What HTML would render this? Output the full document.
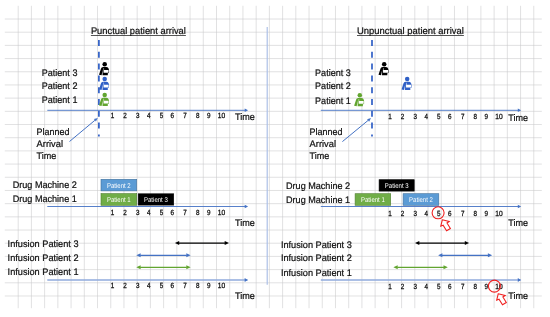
<!DOCTYPE html>
<html lang="en"><head><meta charset="utf-8"><title>Punctual vs unpunctual patient arrival</title>
<style>html,body{margin:0;padding:0;background:#fff;overflow:hidden}svg{display:block;filter:blur(0.3px)}text{font-family:"Liberation Sans",sans-serif;text-rendering:geometricPrecision;fill:#0c0c0c;stroke:#0c0c0c;stroke-width:0.2px}text.d{stroke-width:0.28px}</style>
</head><body>
<svg width="550" height="317" viewBox="0 0 550 317">
<defs>
<g id="pt"><circle cx="0" cy="0" r="2.25"/><path d="M-3.75 4.4 Q-3.4 2.9 -1.6 2.65 L1.8 2.65 Q3.6 2.9 4.0 4.4 L4.3 5.6 L4.3 8.6 L3.1 9.0 L3.1 11.0 L-2.2 11.0 L-2.0 5.3 L-3.1 11.0 L-5.7 10.5 Z"/><path d="M-1.15 5.75 L3.85 5.75 L3.85 8.5 L-1.15 8.5 Z M-1.1 3.6 L-0.7 3.6 L-0.6 5.75 L-1.1 5.75Z" fill="#fff"/></g>
</defs>
<rect width="550" height="317" fill="#fff"/>
<path d="M18.20 5.8V308.2M31.42 5.8V308.2M44.64 5.8V308.2M57.86 5.8V308.2M71.08 5.8V308.2M84.30 5.8V308.2M97.52 5.8V308.2M110.74 5.8V308.2M123.96 5.8V308.2M137.18 5.8V308.2M150.40 5.8V308.2M163.62 5.8V308.2M176.84 5.8V308.2M190.06 5.8V308.2M203.28 5.8V308.2M216.50 5.8V308.2M229.72 5.8V308.2M242.94 5.8V308.2M256.16 5.8V308.2M269.38 5.8V308.2M282.60 5.8V308.2M295.82 5.8V308.2M309.04 5.8V308.2M322.26 5.8V308.2M335.48 5.8V308.2M348.70 5.8V308.2M361.92 5.8V308.2M375.14 5.8V308.2M388.36 5.8V308.2M401.58 5.8V308.2M414.80 5.8V308.2M428.02 5.8V308.2M441.24 5.8V308.2M454.46 5.8V308.2M467.68 5.8V308.2M480.90 5.8V308.2M494.12 5.8V308.2M507.34 5.8V308.2M520.56 5.8V308.2M533.78 5.8V308.2M4.8 19.00H541.8M4.8 32.19H541.8M4.8 45.38H541.8M4.8 58.57H541.8M4.8 71.76H541.8M4.8 84.95H541.8M4.8 98.14H541.8M4.8 111.33H541.8M4.8 124.52H541.8M4.8 137.71H541.8M4.8 150.90H541.8M4.8 164.09H541.8M4.8 177.28H541.8M4.8 190.47H541.8M4.8 203.66H541.8M4.8 216.85H541.8M4.8 230.04H541.8M4.8 243.23H541.8M4.8 256.42H541.8M4.8 269.61H541.8M4.8 282.80H541.8M4.8 295.99H541.8" stroke="#c8c8ca" stroke-width="0.55" fill="none"/>
<path d="M267.2 26.9V284.8" stroke="#a9bde6" stroke-width="1.15" fill="none"/>
<text x="90.9" y="34.2" font-size="9.60" textLength="95.0" lengthAdjust="spacingAndGlyphs">Punctual patient arrival</text>
<path d="M90.9 35.5H185.9" stroke="#0c0c0c" stroke-width="0.7"/>
<path d="M98.9 40V136.5" stroke="#2f5fc6" stroke-width="1.7" stroke-dasharray="6 5.8" fill="none"/>
<text x="41.8" y="75.6" font-size="9.50" textLength="35.6" lengthAdjust="spacingAndGlyphs">Patient 3</text>
<text x="41.8" y="89.0" font-size="9.50" textLength="35.6" lengthAdjust="spacingAndGlyphs">Patient 2</text>
<text x="41.8" y="103.3" font-size="9.50" textLength="35.6" lengthAdjust="spacingAndGlyphs">Patient 1</text>
<use href="#pt" transform="translate(104.7 64.3)" fill="#000"/>
<use href="#pt" transform="translate(104.7 79.0)" fill="#2f5fc6"/>
<use href="#pt" transform="translate(104.7 95.1)" fill="#62a530"/>
<path d="M47.3 110.3H245.2" stroke="#4472c4" stroke-width="0.90" fill="none"/>
<path d="M248.1 110.3l-3.4 -1.8v3.6z" fill="#4472c4"/>
<path d="M47.3 206.5H245.2" stroke="#4472c4" stroke-width="0.90" fill="none"/>
<path d="M248.1 206.5l-3.4 -1.8v3.6z" fill="#4472c4"/>
<path d="M47.3 280.0H245.2" stroke="#8faadc" stroke-width="1.70" fill="none"/>
<path d="M248.1 280.0l-3.4 -1.7v3.4z" fill="#8faadc"/>
<path d="M248.1 280.0l-3.4 -1.8v3.6z" fill="#4472c4"/>
<text x="110.8" y="118.2" font-size="7.50" textLength="3.5" lengthAdjust="spacingAndGlyphs" class="d">1</text>
<text x="123.2" y="118.2" font-size="7.50" textLength="3.5" lengthAdjust="spacingAndGlyphs" class="d">2</text>
<text x="136.1" y="118.2" font-size="7.50" textLength="3.5" lengthAdjust="spacingAndGlyphs" class="d">3</text>
<text x="146.9" y="118.2" font-size="7.50" textLength="3.5" lengthAdjust="spacingAndGlyphs" class="d">4</text>
<text x="159.7" y="118.2" font-size="7.50" textLength="3.5" lengthAdjust="spacingAndGlyphs" class="d">5</text>
<text x="170.6" y="118.2" font-size="7.50" textLength="3.5" lengthAdjust="spacingAndGlyphs" class="d">6</text>
<text x="183.3" y="118.2" font-size="7.50" textLength="3.5" lengthAdjust="spacingAndGlyphs" class="d">7</text>
<text x="195.9" y="118.2" font-size="7.50" textLength="3.5" lengthAdjust="spacingAndGlyphs" class="d">8</text>
<text x="206.9" y="118.2" font-size="7.50" textLength="3.5" lengthAdjust="spacingAndGlyphs" class="d">9</text>
<text x="217.8" y="118.2" font-size="7.50" textLength="7.4" lengthAdjust="spacingAndGlyphs" class="d">10</text>
<text x="110.8" y="215.4" font-size="7.50" textLength="3.5" lengthAdjust="spacingAndGlyphs" class="d">1</text>
<text x="123.2" y="215.4" font-size="7.50" textLength="3.5" lengthAdjust="spacingAndGlyphs" class="d">2</text>
<text x="136.1" y="215.4" font-size="7.50" textLength="3.5" lengthAdjust="spacingAndGlyphs" class="d">3</text>
<text x="146.9" y="215.4" font-size="7.50" textLength="3.5" lengthAdjust="spacingAndGlyphs" class="d">4</text>
<text x="159.7" y="215.4" font-size="7.50" textLength="3.5" lengthAdjust="spacingAndGlyphs" class="d">5</text>
<text x="170.6" y="215.4" font-size="7.50" textLength="3.5" lengthAdjust="spacingAndGlyphs" class="d">6</text>
<text x="183.3" y="215.4" font-size="7.50" textLength="3.5" lengthAdjust="spacingAndGlyphs" class="d">7</text>
<text x="195.9" y="215.4" font-size="7.50" textLength="3.5" lengthAdjust="spacingAndGlyphs" class="d">8</text>
<text x="206.9" y="215.4" font-size="7.50" textLength="3.5" lengthAdjust="spacingAndGlyphs" class="d">9</text>
<text x="217.8" y="215.4" font-size="7.50" textLength="7.4" lengthAdjust="spacingAndGlyphs" class="d">10</text>
<text x="110.8" y="287.9" font-size="7.50" textLength="3.5" lengthAdjust="spacingAndGlyphs" class="d">1</text>
<text x="123.2" y="287.9" font-size="7.50" textLength="3.5" lengthAdjust="spacingAndGlyphs" class="d">2</text>
<text x="136.1" y="287.9" font-size="7.50" textLength="3.5" lengthAdjust="spacingAndGlyphs" class="d">3</text>
<text x="146.9" y="287.9" font-size="7.50" textLength="3.5" lengthAdjust="spacingAndGlyphs" class="d">4</text>
<text x="159.7" y="287.9" font-size="7.50" textLength="3.5" lengthAdjust="spacingAndGlyphs" class="d">5</text>
<text x="170.6" y="287.9" font-size="7.50" textLength="3.5" lengthAdjust="spacingAndGlyphs" class="d">6</text>
<text x="183.3" y="287.9" font-size="7.50" textLength="3.5" lengthAdjust="spacingAndGlyphs" class="d">7</text>
<text x="195.9" y="287.9" font-size="7.50" textLength="3.5" lengthAdjust="spacingAndGlyphs" class="d">8</text>
<text x="206.9" y="287.9" font-size="7.50" textLength="3.5" lengthAdjust="spacingAndGlyphs" class="d">9</text>
<text x="217.8" y="287.9" font-size="7.50" textLength="7.4" lengthAdjust="spacingAndGlyphs" class="d">10</text>
<text x="235.1" y="120.2" font-size="9.50" textLength="19.8" lengthAdjust="spacingAndGlyphs">Time</text>
<text x="235.1" y="226.2" font-size="9.50" textLength="19.8" lengthAdjust="spacingAndGlyphs">Time</text>
<text x="235.1" y="298.8" font-size="9.50" textLength="19.8" lengthAdjust="spacingAndGlyphs">Time</text>
<text x="36.6" y="134.6" font-size="9.50" textLength="32.8" lengthAdjust="spacingAndGlyphs">Planned</text>
<text x="36.6" y="146.7" font-size="9.50" textLength="26.4" lengthAdjust="spacingAndGlyphs">Arrival</text>
<text x="36.6" y="158.9" font-size="9.50" textLength="19.8" lengthAdjust="spacingAndGlyphs">Time</text>
<path d="M69.5 141.5L94.9 120.3" stroke="#4472c4" stroke-width="1.0" fill="none"/>
<path d="M97.8 117.9L95.9 121.6L93.9 119.1z" fill="#4472c4"/>
<text x="12.7" y="188.2" font-size="9.50" textLength="64.1" lengthAdjust="spacingAndGlyphs">Drug Machine 2</text>
<text x="12.7" y="202.4" font-size="9.50" textLength="64.1" lengthAdjust="spacingAndGlyphs">Drug Machine 1</text>
<text x="7.6" y="247.3" font-size="9.50" textLength="70.9" lengthAdjust="spacingAndGlyphs">Infusion Patient 3</text>
<text x="7.6" y="260.9" font-size="9.50" textLength="70.9" lengthAdjust="spacingAndGlyphs">Infusion Patient 2</text>
<text x="7.6" y="275.2" font-size="9.50" textLength="70.9" lengthAdjust="spacingAndGlyphs">Infusion Patient 1</text>
<text x="357.0" y="34.2" font-size="9.60" textLength="106.9" lengthAdjust="spacingAndGlyphs">Unpunctual patient arrival</text>
<path d="M357 35.5H463.9" stroke="#0c0c0c" stroke-width="0.7"/>
<path d="M372.0 40V136.5" stroke="#2f5fc6" stroke-width="1.7" stroke-dasharray="6 5.8" fill="none"/>
<text x="315.1" y="75.6" font-size="9.50" textLength="35.6" lengthAdjust="spacingAndGlyphs">Patient 3</text>
<text x="315.1" y="89.2" font-size="9.50" textLength="35.6" lengthAdjust="spacingAndGlyphs">Patient 2</text>
<text x="315.1" y="103.9" font-size="9.50" textLength="35.6" lengthAdjust="spacingAndGlyphs">Patient 1</text>
<use href="#pt" transform="translate(384.2 64.3)" fill="#000"/>
<use href="#pt" transform="translate(407.2 79.1)" fill="#2f5fc6"/>
<use href="#pt" transform="translate(359.8 95.3)" fill="#62a530"/>
<path d="M320.8 110.3H518.3" stroke="#4472c4" stroke-width="0.90" fill="none"/>
<path d="M521.2 110.3l-3.4 -1.8v3.6z" fill="#4472c4"/>
<path d="M320.8 206.5H518.3" stroke="#4472c4" stroke-width="0.90" fill="none"/>
<path d="M521.2 206.5l-3.4 -1.8v3.6z" fill="#4472c4"/>
<path d="M320.8 280.0H518.3" stroke="#8faadc" stroke-width="1.70" fill="none"/>
<path d="M521.2 280.0l-3.4 -1.7v3.4z" fill="#8faadc"/>
<path d="M521.2 280.0l-3.4 -1.8v3.6z" fill="#4472c4"/>
<text x="388.2" y="119.0" font-size="7.50" textLength="3.5" lengthAdjust="spacingAndGlyphs" class="d">1</text>
<text x="400.8" y="119.0" font-size="7.50" textLength="3.5" lengthAdjust="spacingAndGlyphs" class="d">2</text>
<text x="413.6" y="119.0" font-size="7.50" textLength="3.5" lengthAdjust="spacingAndGlyphs" class="d">3</text>
<text x="424.4" y="119.0" font-size="7.50" textLength="3.5" lengthAdjust="spacingAndGlyphs" class="d">4</text>
<text x="437.1" y="119.0" font-size="7.50" textLength="3.5" lengthAdjust="spacingAndGlyphs" class="d">5</text>
<text x="448.1" y="119.0" font-size="7.50" textLength="3.5" lengthAdjust="spacingAndGlyphs" class="d">6</text>
<text x="460.9" y="119.0" font-size="7.50" textLength="3.5" lengthAdjust="spacingAndGlyphs" class="d">7</text>
<text x="473.4" y="119.0" font-size="7.50" textLength="3.5" lengthAdjust="spacingAndGlyphs" class="d">8</text>
<text x="484.4" y="119.0" font-size="7.50" textLength="3.5" lengthAdjust="spacingAndGlyphs" class="d">9</text>
<text x="495.3" y="119.0" font-size="7.50" textLength="7.4" lengthAdjust="spacingAndGlyphs" class="d">10</text>
<text x="388.2" y="216.1" font-size="7.50" textLength="3.5" lengthAdjust="spacingAndGlyphs" class="d">1</text>
<text x="400.8" y="216.1" font-size="7.50" textLength="3.5" lengthAdjust="spacingAndGlyphs" class="d">2</text>
<text x="413.6" y="216.1" font-size="7.50" textLength="3.5" lengthAdjust="spacingAndGlyphs" class="d">3</text>
<text x="424.4" y="216.1" font-size="7.50" textLength="3.5" lengthAdjust="spacingAndGlyphs" class="d">4</text>
<text x="437.1" y="216.1" font-size="7.50" textLength="3.5" lengthAdjust="spacingAndGlyphs" class="d">5</text>
<text x="448.1" y="216.1" font-size="7.50" textLength="3.5" lengthAdjust="spacingAndGlyphs" class="d">6</text>
<text x="460.9" y="216.1" font-size="7.50" textLength="3.5" lengthAdjust="spacingAndGlyphs" class="d">7</text>
<text x="473.4" y="216.1" font-size="7.50" textLength="3.5" lengthAdjust="spacingAndGlyphs" class="d">8</text>
<text x="484.4" y="216.1" font-size="7.50" textLength="3.5" lengthAdjust="spacingAndGlyphs" class="d">9</text>
<text x="495.3" y="216.1" font-size="7.50" textLength="7.4" lengthAdjust="spacingAndGlyphs" class="d">10</text>
<text x="388.2" y="288.7" font-size="7.50" textLength="3.5" lengthAdjust="spacingAndGlyphs" class="d">1</text>
<text x="400.8" y="288.7" font-size="7.50" textLength="3.5" lengthAdjust="spacingAndGlyphs" class="d">2</text>
<text x="413.6" y="288.7" font-size="7.50" textLength="3.5" lengthAdjust="spacingAndGlyphs" class="d">3</text>
<text x="424.4" y="288.7" font-size="7.50" textLength="3.5" lengthAdjust="spacingAndGlyphs" class="d">4</text>
<text x="437.1" y="288.7" font-size="7.50" textLength="3.5" lengthAdjust="spacingAndGlyphs" class="d">5</text>
<text x="448.1" y="288.7" font-size="7.50" textLength="3.5" lengthAdjust="spacingAndGlyphs" class="d">6</text>
<text x="460.9" y="288.7" font-size="7.50" textLength="3.5" lengthAdjust="spacingAndGlyphs" class="d">7</text>
<text x="473.4" y="288.7" font-size="7.50" textLength="3.5" lengthAdjust="spacingAndGlyphs" class="d">8</text>
<text x="484.4" y="288.7" font-size="7.50" textLength="3.5" lengthAdjust="spacingAndGlyphs" class="d">9</text>
<text x="495.3" y="288.7" font-size="7.50" textLength="7.4" lengthAdjust="spacingAndGlyphs" class="d">10</text>
<text x="508.3" y="120.9" font-size="9.50" textLength="19.8" lengthAdjust="spacingAndGlyphs">Time</text>
<text x="508.3" y="226.4" font-size="9.50" textLength="19.8" lengthAdjust="spacingAndGlyphs">Time</text>
<text x="508.3" y="298.9" font-size="9.50" textLength="19.8" lengthAdjust="spacingAndGlyphs">Time</text>
<text x="309.6" y="134.6" font-size="9.50" textLength="32.8" lengthAdjust="spacingAndGlyphs">Planned</text>
<text x="309.6" y="146.7" font-size="9.50" textLength="26.4" lengthAdjust="spacingAndGlyphs">Arrival</text>
<text x="309.6" y="158.9" font-size="9.50" textLength="19.8" lengthAdjust="spacingAndGlyphs">Time</text>
<path d="M342.4 141.6L368.1 120.4" stroke="#4472c4" stroke-width="1.0" fill="none"/>
<path d="M371.0 118.0L369.1 121.7L367.1 119.2z" fill="#4472c4"/>
<text x="286.0" y="188.7" font-size="9.50" textLength="64.1" lengthAdjust="spacingAndGlyphs">Drug Machine 2</text>
<text x="286.0" y="203.0" font-size="9.50" textLength="64.1" lengthAdjust="spacingAndGlyphs">Drug Machine 1</text>
<text x="280.9" y="247.7" font-size="9.50" textLength="70.9" lengthAdjust="spacingAndGlyphs">Infusion Patient 3</text>
<text x="280.9" y="260.9" font-size="9.50" textLength="70.9" lengthAdjust="spacingAndGlyphs">Infusion Patient 2</text>
<text x="280.9" y="275.5" font-size="9.50" textLength="70.9" lengthAdjust="spacingAndGlyphs">Infusion Patient 1</text>
<rect x="101.0" y="179.3" width="35.7" height="11.6" fill="#5b9bd5" stroke="#41719c" stroke-width="0.6"/>
<text x="106.9" y="187.6" font-size="6.90" textLength="23.8" lengthAdjust="spacingAndGlyphs" style="fill:#fff;stroke:none">Patient 2</text>
<rect x="101.0" y="193.6" width="35.7" height="11.7" fill="#70ad47" stroke="#507e32" stroke-width="0.6"/>
<text x="106.9" y="201.9" font-size="6.90" textLength="23.8" lengthAdjust="spacingAndGlyphs" style="fill:#fff;stroke:none">Patient 1</text>
<rect x="138.2" y="193.8" width="35.5" height="11.3" fill="#000" stroke="#000" stroke-width="0.6"/>
<text x="144.0" y="201.9" font-size="6.90" textLength="23.8" lengthAdjust="spacingAndGlyphs" style="fill:#fff;stroke:none">Patient 3</text>
<rect x="379.1" y="179.7" width="35.1" height="11.4" fill="#000" stroke="#000" stroke-width="0.6"/>
<text x="384.8" y="187.9" font-size="6.90" textLength="23.8" lengthAdjust="spacingAndGlyphs" style="fill:#fff;stroke:none">Patient 3</text>
<rect x="355.1" y="193.7" width="35.6" height="11.6" fill="#70ad47" stroke="#507e32" stroke-width="0.6"/>
<text x="361.0" y="202.0" font-size="6.90" textLength="23.8" lengthAdjust="spacingAndGlyphs" style="fill:#fff;stroke:none">Patient 1</text>
<rect x="403.1" y="193.7" width="35.7" height="11.6" fill="#5b9bd5" stroke="#41719c" stroke-width="0.6"/>
<text x="409.1" y="202.0" font-size="6.90" textLength="23.8" lengthAdjust="spacingAndGlyphs" style="fill:#fff;stroke:none">Patient 2</text>
<path d="M178.7 243.1H225.2" stroke="#000" stroke-width="1.35" fill="none"/>
<path d="M229.0 243.1l-4.3 -2.0v4.0z" fill="#000"/>
<path d="M174.9 243.1l4.3 -2.0v4.0z" fill="#000"/>
<path d="M140.1 255.3H186.8" stroke="#4472c4" stroke-width="1.35" fill="none"/>
<path d="M190.6 255.3l-4.3 -2.0v4.0z" fill="#4472c4"/>
<path d="M136.3 255.3l4.3 -2.0v4.0z" fill="#4472c4"/>
<path d="M140.1 267.3H186.8" stroke="#62a530" stroke-width="1.35" fill="none"/>
<path d="M190.6 267.3l-4.3 -2.0v4.0z" fill="#62a530"/>
<path d="M136.3 267.3l4.3 -2.0v4.0z" fill="#62a530"/>
<path d="M418.8 243.1H465.3" stroke="#000" stroke-width="1.35" fill="none"/>
<path d="M469.1 243.1l-4.3 -2.0v4.0z" fill="#000"/>
<path d="M415.0 243.1l4.3 -2.0v4.0z" fill="#000"/>
<path d="M441.9 255.3H488.4" stroke="#4472c4" stroke-width="1.35" fill="none"/>
<path d="M492.2 255.3l-4.3 -2.0v4.0z" fill="#4472c4"/>
<path d="M438.1 255.3l4.3 -2.0v4.0z" fill="#4472c4"/>
<path d="M397.2 267.3H444.0" stroke="#62a530" stroke-width="1.35" fill="none"/>
<path d="M447.8 267.3l-4.3 -2.0v4.0z" fill="#62a530"/>
<path d="M393.4 267.3l4.3 -2.0v4.0z" fill="#62a530"/>
<circle cx="438.1" cy="212.8" r="6.0" fill="none" stroke="#f02020" stroke-width="1.1"/>
<circle cx="494.4" cy="286.1" r="6.0" fill="none" stroke="#f02020" stroke-width="1.1"/>
<path d="M442.3 219.8 L449.2 221.5 L447.0 223.0 L450.4 228.5 L446.6 230.7 L443.1 225.3 L440.8 226.2z" fill="#fff" fill-opacity="0.6" stroke="#f02020" stroke-width="1.1" stroke-linejoin="miter"/>
<path d="M498.2 293.8 L505.1 295.5 L502.9 297.0 L506.3 302.5 L502.5 304.7 L499.0 299.3 L496.7 300.2z" fill="#fff" fill-opacity="0.6" stroke="#f02020" stroke-width="1.1" stroke-linejoin="miter"/>
</svg>
</body></html>
